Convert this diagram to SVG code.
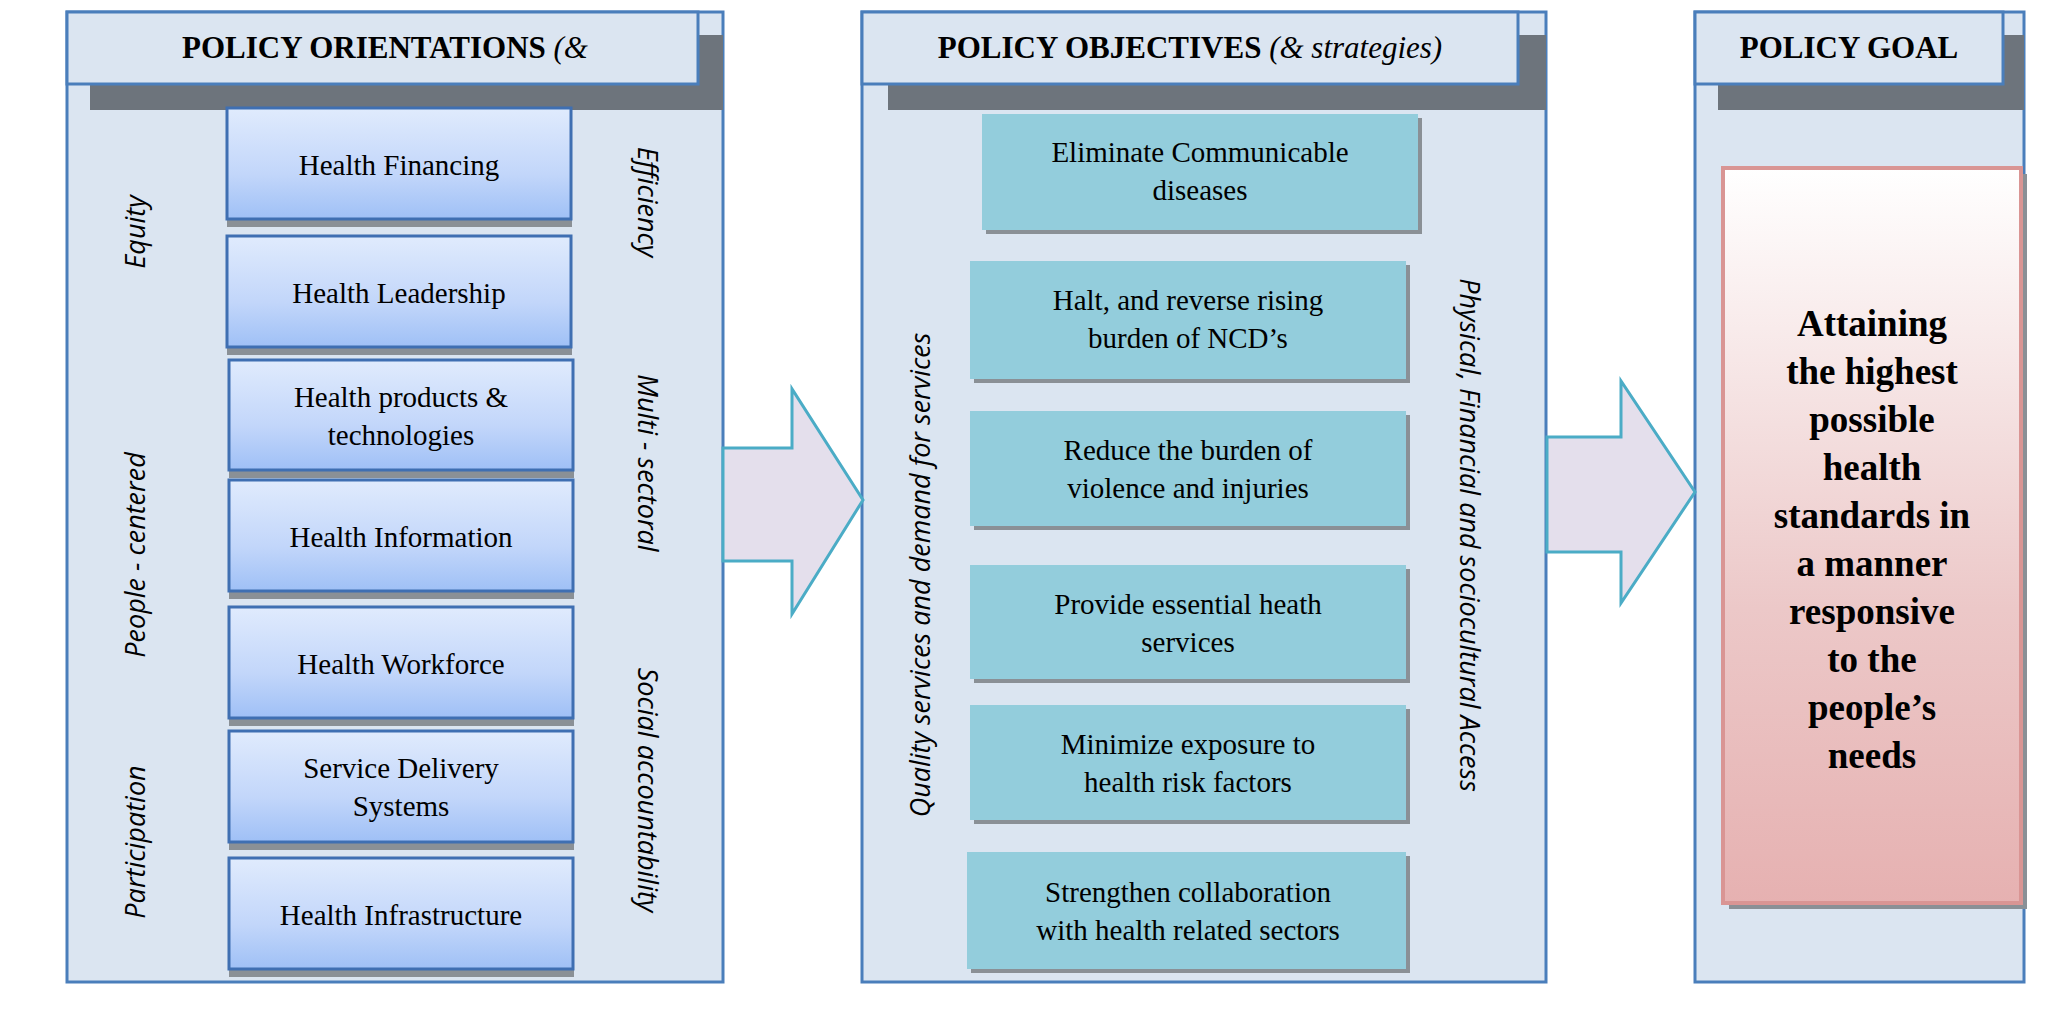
<svg xmlns="http://www.w3.org/2000/svg" width="2047" height="1015" viewBox="0 0 2047 1015">
<style>
.panel{fill:#dbe5f1;stroke:#4a7ebb;stroke-width:3}
.hdr{fill:#dbe5f1;stroke:#4a7ebb;stroke-width:3}
.shd{fill:#6d747c}
.bshd{fill:#8a9096}
.blue{fill:url(#gb);stroke:#3f6fb2;stroke-width:3}
.teal{fill:#93cddc}
.t{font-family:"Liberation Serif",serif;font-size:29px;fill:#000;text-anchor:middle}
.h{font-family:"Liberation Serif",serif;font-size:31px;font-weight:bold;fill:#000;text-anchor:middle}
.r{font-family:"Open Sans",sans-serif;font-size:27px;font-style:italic;fill:#000;text-anchor:middle}
.g{font-family:"Liberation Serif",serif;font-size:37px;font-weight:bold;fill:#000;text-anchor:middle}
.arrow{fill:#e4dfec;stroke:#4bacc6;stroke-width:3}
</style>
<defs>
<linearGradient id="gb" x1="0" y1="0" x2="0" y2="1"><stop offset="0" stop-color="#e0ebfd"/><stop offset="0.6" stop-color="#c2d6fa"/><stop offset="1" stop-color="#9fc0f6"/></linearGradient>
<linearGradient id="gg" x1="0" y1="0" x2="0" y2="1"><stop offset="0" stop-color="#ffffff"/><stop offset="0.6" stop-color="#ecc8c8"/><stop offset="1" stop-color="#e6b1b1"/></linearGradient>
</defs>
<rect width="2047" height="1015" fill="#fff"/>
<g id="panel-orientations">
<rect class="panel" x="67" y="12" width="656" height="970"/>
<rect class="shd" x="90" y="35" width="633" height="75"/>
<rect class="hdr" x="67" y="12" width="631" height="72"/>
<text class="h" x="385" y="58">POLICY ORIENTATIONS <tspan font-style="italic" font-weight="normal">(&amp;</tspan></text>
<text class="r" transform="translate(145,232) rotate(-90)">Equity</text>
<text class="r" transform="translate(145,555) rotate(-90)">People - centered</text>
<text class="r" transform="translate(145,842) rotate(-90)">Participation</text>
<text class="r" transform="translate(638,202) rotate(90)">Efficiency</text>
<text class="r" transform="translate(638,463) rotate(90)">Multi - sectoral</text>
<text class="r" transform="translate(638,790) rotate(90)">Social accountability</text>
</g>
<g id="n1"><rect class="bshd" x="227" y="112" width="345" height="115"/><rect class="blue" x="227" y="108" width="344" height="111"/><text class="t" x="399" y="175">Health Financing</text></g>
<g id="n2"><rect class="bshd" x="227" y="240" width="345" height="115"/><rect class="blue" x="227" y="236" width="344" height="111"/><text class="t" x="399" y="303">Health Leadership</text></g>
<g id="n3"><rect class="bshd" x="229" y="364" width="345" height="114"/><rect class="blue" x="229" y="360" width="344" height="110"/><text class="t" x="401" y="407">Health products &amp;</text><text class="t" x="401" y="445">technologies</text></g>
<g id="n4"><rect class="bshd" x="229" y="484" width="345" height="115"/><rect class="blue" x="229" y="480" width="344" height="111"/><text class="t" x="401" y="547">Health Information</text></g>
<g id="n5"><rect class="bshd" x="229" y="611" width="345" height="115"/><rect class="blue" x="229" y="607" width="344" height="111"/><text class="t" x="401" y="674">Health Workforce</text></g>
<g id="n6"><rect class="bshd" x="229" y="735" width="345" height="115"/><rect class="blue" x="229" y="731" width="344" height="111"/><text class="t" x="401" y="778">Service Delivery</text><text class="t" x="401" y="816">Systems</text></g>
<g id="n7"><rect class="bshd" x="229" y="862" width="345" height="115"/><rect class="blue" x="229" y="858" width="344" height="111"/><text class="t" x="401" y="925">Health Infrastructure</text></g>

<g id="panel-objectives">
<rect class="panel" x="862" y="12" width="684" height="970"/>
<rect class="shd" x="888" y="35" width="658" height="75"/>
<rect class="hdr" x="862" y="12" width="656" height="72"/>
<text class="h" x="1190" y="58">POLICY OBJECTIVES <tspan font-style="italic" font-weight="normal">(&amp; strategies)</tspan></text>
<text class="r" transform="translate(930,575) rotate(-90)">Quality services and demand for services</text>
<text class="r" transform="translate(1460,535) rotate(90)">Physical,  Financial and sociocultural Access</text>
</g>
<g id="o1"><rect class="bshd" x="986" y="118" width="436" height="116"/><rect class="teal" x="982" y="114" width="436" height="116"/><text class="t" x="1200" y="162">Eliminate Communicable</text><text class="t" x="1200" y="200">diseases</text></g>
<g id="o2"><rect class="bshd" x="974" y="265" width="436" height="118"/><rect class="teal" x="970" y="261" width="436" height="118"/><text class="t" x="1188" y="310" font-family="Open Sans,sans-serif" font-size="27">Halt, and reverse rising</text><text class="t" x="1188" y="348" font-family="Open Sans,sans-serif" font-size="27">burden of NCD’s</text></g>
<g id="o3"><rect class="bshd" x="974" y="415" width="436" height="115"/><rect class="teal" x="970" y="411" width="436" height="115"/><text class="t" x="1188" y="460">Reduce the burden of</text><text class="t" x="1188" y="498">violence and injuries</text></g>
<g id="o4"><rect class="bshd" x="974" y="569" width="436" height="114"/><rect class="teal" x="970" y="565" width="436" height="114"/><text class="t" x="1188" y="614">Provide essential heath</text><text class="t" x="1188" y="652">services</text></g>
<g id="o5"><rect class="bshd" x="974" y="709" width="436" height="115"/><rect class="teal" x="970" y="705" width="436" height="115"/><text class="t" x="1188" y="754">Minimize exposure to</text><text class="t" x="1188" y="792">health risk factors</text></g>
<g id="o6"><rect class="bshd" x="971" y="856" width="439" height="117"/><rect class="teal" x="967" y="852" width="439" height="117"/><text class="t" x="1188" y="902">Strengthen collaboration</text><text class="t" x="1188" y="940">with health related sectors</text></g>

<g id="panel-goal">
<rect class="panel" x="1695" y="12" width="329" height="970"/>
<rect class="shd" x="1718" y="35" width="306" height="75"/>
<rect class="hdr" x="1695" y="12" width="308" height="72"/>
<text class="h" x="1849" y="58">POLICY GOAL</text>
</g>
<g id="goal">
<rect x="1729" y="174" width="298" height="735" fill="#8a9096"/>
<rect x="1723" y="168" width="298" height="735" fill="url(#gg)" stroke="#d99594" stroke-width="4"/>
<text class="g" x="1872" y="336">Attaining</text>
<text class="g" x="1872" y="384">the highest</text>
<text class="g" x="1872" y="432">possible</text>
<text class="g" x="1872" y="480">health</text>
<text class="g" x="1872" y="528">standards in</text>
<text class="g" x="1872" y="576">a manner</text>
<text class="g" x="1872" y="624">responsive</text>
<text class="g" x="1872" y="672">to the</text>
<text class="g" x="1872" y="720">people’s</text>
<text class="g" x="1872" y="768">needs</text>
</g>
<g id="connectors">
<polygon class="arrow" points="723,448 792,448 792,389 863,500 792,614 792,561 723,561"/>
<polygon class="arrow" points="1547,437 1621,437 1621,381 1695,492 1621,603 1621,552 1547,552"/>
</g>
</svg>
